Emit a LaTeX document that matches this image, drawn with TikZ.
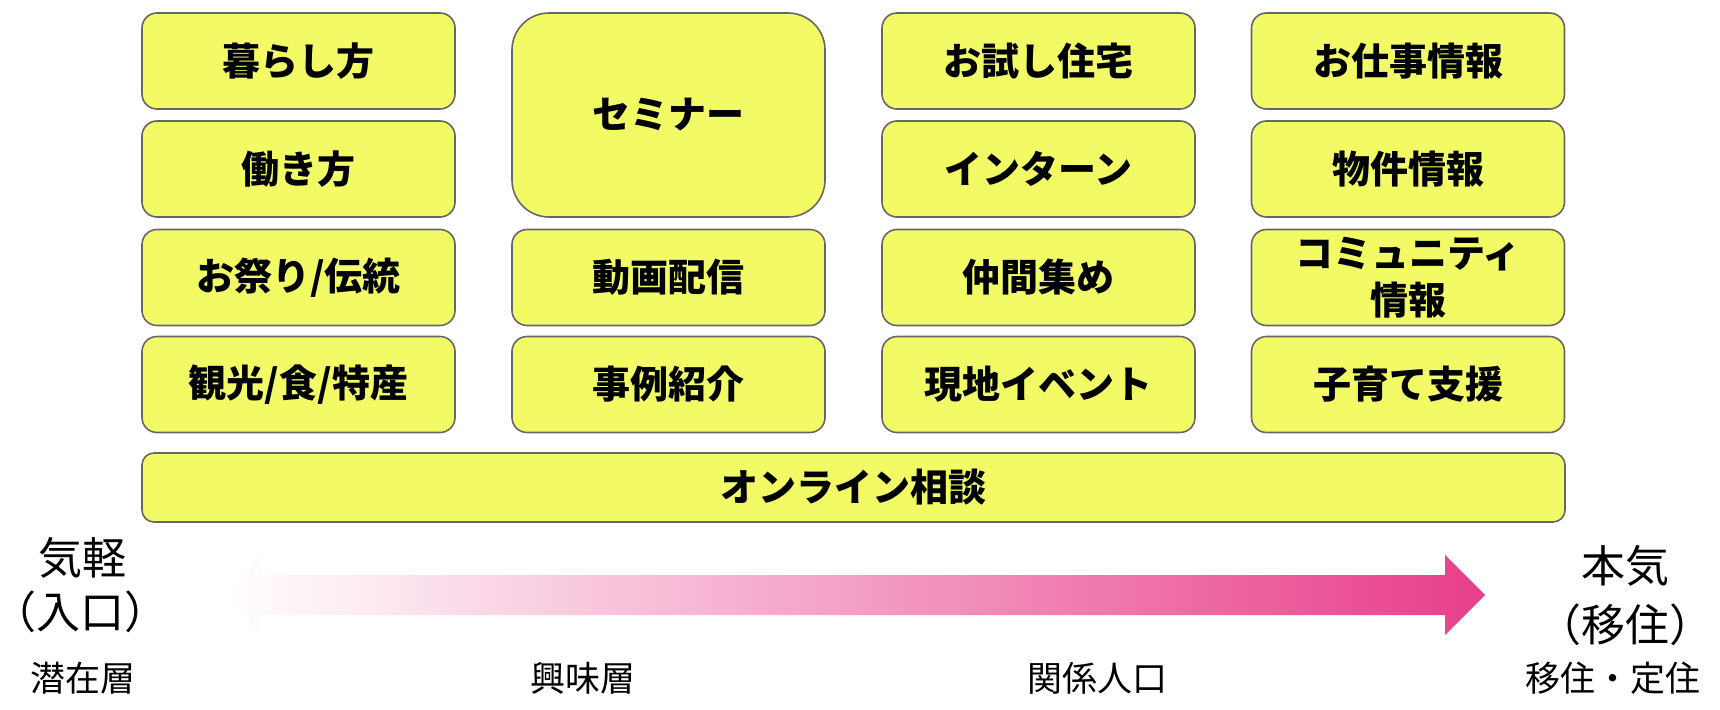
\documentclass[tikz,border=0pt]{standalone}
\usepackage{fontspec}
\setmainfont{Noto Sans CJK JP}
\definecolor{boxfill}{RGB}{242,251,102}
\definecolor{boxline}{RGB}{102,102,102}
\definecolor{arrowpink}{RGB}{232,62,137}
\tikzset{
  item/.style={draw=boxline, line width=1.6pt, fill=boxfill, rounded corners=15pt,
    minimum width=313pt, minimum height=96pt, inner sep=0pt, align=center,
    font=\fontsize{38}{47}\selectfont\bfseries},
  biglabel/.style={inner sep=0pt, align=center, font=\fontsize{44}{54}\selectfont},
  smalllabel/.style={inner sep=0pt, font=\fontsize{35}{42}\selectfont}
}
\begin{document}
\begin{tikzpicture}[x=1pt,y=-1pt]
\useasboundingbox (0,0) rectangle (1720,709);
% column 1
\node[item] (kurashi) at (298.5,61) {暮らし方};
\node[item] (hataraki) at (298.5,169) {働き方};
\node[item] (matsuri) at (298.5,277.5) {お祭り/伝統};
\node[item] (kanko) at (298.5,384.5) {観光/食/特産};
% column 2
\node[item, rounded corners=37pt, minimum height=204pt] (seminar) at (668.5,115) {セミナー};
\node[item] (douga) at (668.5,277.5) {動画配信};
\node[item] (jirei) at (668.5,384.5) {事例紹介};
% column 3
\node[item] (otameshi) at (1038.5,61) {お試し住宅};
\node[item] (intern) at (1038.5,169) {インターン};
\node[item] (nakama) at (1038.5,277.5) {仲間集め};
\node[item] (genchi) at (1038.5,384.5) {現地イベント};
% column 4
\node[item] (shigoto) at (1408,61) {お仕事情報};
\node[item] (bukken) at (1408,169) {物件情報};
\node[item] (community) at (1408,277.5) {コミュニティ\\情報};
\node[item] (kosodate) at (1408,384.5) {子育て支援};
% online
\node[item, rounded corners=12pt, minimum width=1423pt, minimum height=69pt] (online) at (853.5,487.5) {オンライン相談};
% arrow
\shade[left color=white, right color=arrowpink]
  (227,595) -- (260,555) -- (260,575) -- (1445,575) -- (1445,555) -- (1485,595)
  -- (1445,635) -- (1445,615) -- (260,615) -- (260,635) -- cycle;
% axis labels
\node[biglabel] (kigaru) at (82,558) {気軽};
\node[biglabel] (iriguchi) at (80,612) {\hspace*{-0.5em}（入口）\hspace*{-0.5em}};
\node[smalllabel] (senzai) at (83,678) {潜在層};
\node[smalllabel] (kyomi) at (583,678) {興味層};
\node[smalllabel] (kankei) at (1097,678) {関係人口};
\node[smalllabel] (teiju) at (1613,678) {移住・定住};
\node[biglabel] (honki) at (1625,566) {本気};
\node[biglabel] (iju) at (1625,625) {\hspace*{-0.5em}（移住）\hspace*{-0.5em}};
\end{tikzpicture}
\end{document}
